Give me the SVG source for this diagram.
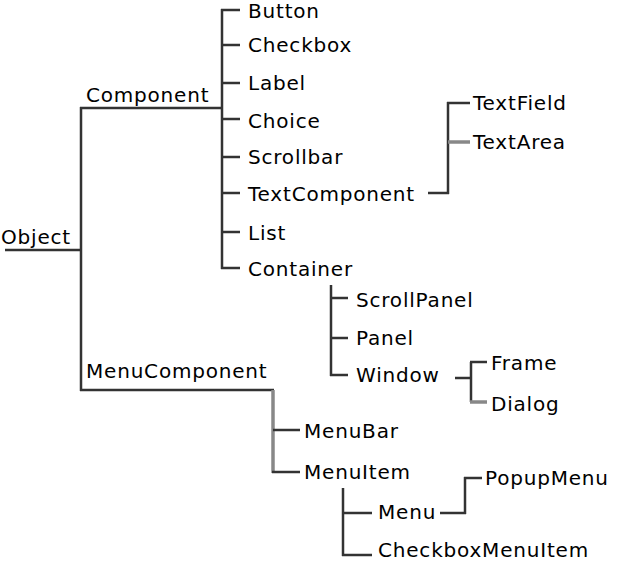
<svg xmlns="http://www.w3.org/2000/svg" width="618" height="562" viewBox="0 0 618 562">
<style>
text{font-family:"DejaVu Sans","Liberation Sans",sans-serif;font-size:20px;letter-spacing:0.8px;fill:#000}
.c line{stroke:#333;stroke-width:2.5}
.g{stroke:#888 !important;stroke-width:3.5 !important}
</style>
<rect width="618" height="562" fill="#fff"/>
<g class="c" id="connectors">
<line x1="5" y1="250" x2="81" y2="250"/>
<line x1="81" y1="107" x2="81" y2="391"/>
<line x1="80" y1="108" x2="223" y2="108"/>
<line x1="222" y1="9" x2="222" y2="269"/>
<line x1="221" y1="10" x2="240" y2="10"/>
<line x1="222" y1="45" x2="240" y2="45"/>
<line x1="222" y1="83" x2="240" y2="83"/>
<line x1="222" y1="119" x2="240" y2="119"/>
<line x1="222" y1="157" x2="240" y2="157"/>
<line x1="222" y1="193" x2="240" y2="193"/>
<line x1="222" y1="232" x2="240" y2="232"/>
<line x1="221" y1="268" x2="240" y2="268"/>
<line x1="428" y1="193" x2="449" y2="193"/>
<line x1="448" y1="102" x2="448" y2="194"/>
<line x1="447" y1="103" x2="470" y2="103"/>
<line class="g" x1="448" y1="142" x2="470" y2="142"/>
<line x1="331" y1="285" x2="331" y2="376"/>
<line x1="331" y1="298" x2="348" y2="298"/>
<line x1="331" y1="338" x2="348" y2="338"/>
<line x1="330" y1="375" x2="348" y2="375"/>
<line x1="455" y1="378" x2="471" y2="378"/>
<line x1="471" y1="362" x2="471" y2="402"/>
<line x1="470" y1="362" x2="487" y2="362"/>
<line class="g" x1="470" y1="402" x2="487" y2="402"/>
<line x1="80" y1="390" x2="274" y2="390"/>
<line class="g" x1="273" y1="390" x2="273" y2="473"/>
<line x1="273" y1="430" x2="300" y2="430"/>
<line x1="272" y1="472" x2="300" y2="472"/>
<line x1="343" y1="488" x2="343" y2="556"/>
<line x1="343" y1="513" x2="372" y2="513"/>
<line x1="342" y1="555" x2="372" y2="555"/>
<line x1="440" y1="513" x2="466" y2="513"/>
<line x1="465" y1="477" x2="465" y2="514"/>
<line x1="464" y1="478" x2="482" y2="478"/>
</g>
<g id="Object"><text x="1" y="244">Object</text></g>
<g id="Component"><text x="86" y="102">Component</text></g>
<g id="Button"><text x="248" y="18">Button</text></g>
<g id="Checkbox"><text x="248" y="52">Checkbox</text></g>
<g id="Label"><text x="248" y="90">Label</text></g>
<g id="Choice"><text x="248" y="128">Choice</text></g>
<g id="Scrollbar"><text x="248" y="164">Scrollbar</text></g>
<g id="TextComponent"><text x="248" y="201">TextComponent</text></g>
<g id="List"><text x="248" y="240">List</text></g>
<g id="Container"><text x="248" y="276">Container</text></g>
<g id="TextField"><text x="473" y="110">TextField</text></g>
<g id="TextArea"><text x="473" y="149">TextArea</text></g>
<g id="ScrollPanel"><text x="356" y="307">ScrollPanel</text></g>
<g id="Panel"><text x="356" y="345">Panel</text></g>
<g id="Window"><text x="356" y="382">Window</text></g>
<g id="Frame"><text x="491" y="370">Frame</text></g>
<g id="Dialog"><text x="491" y="411">Dialog</text></g>
<g id="MenuComponent"><text x="86" y="378">MenuComponent</text></g>
<g id="MenuBar"><text x="304" y="438">MenuBar</text></g>
<g id="MenuItem"><text x="304" y="479">MenuItem</text></g>
<g id="Menu"><text x="378" y="519">Menu</text></g>
<g id="PopupMenu"><text x="485" y="485">PopupMenu</text></g>
<g id="CheckboxMenuItem"><text x="378" y="557">CheckboxMenuItem</text></g>
</svg>
